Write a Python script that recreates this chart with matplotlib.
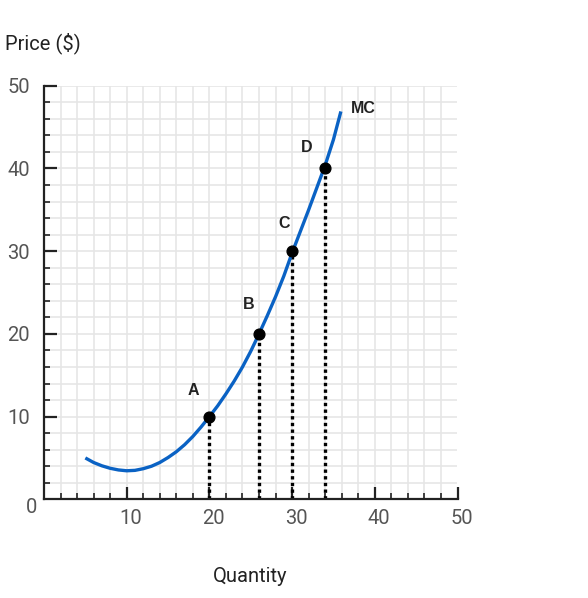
import matplotlib
matplotlib.use("Agg")
import matplotlib.pyplot as plt
import matplotlib.transforms as mtransforms
from matplotlib.ticker import MultipleLocator

# MC curve, one reading per unit of quantity
mc_q = [5, 6, 7, 8, 9, 10, 11, 12, 13, 14, 15, 16, 17, 18, 19, 20,
        21, 22, 23, 24, 25, 26, 27, 28, 29, 30, 31, 32, 33, 34, 35, 35.9]
mc_p = [5.0, 4.45, 4.05, 3.75, 3.55, 3.45, 3.5, 3.7, 4.0, 4.45, 5.05, 5.75, 6.6, 7.6, 8.75, 10.0,
        11.3, 12.75, 14.3, 16.0, 17.9, 20.0, 22.2, 24.5, 27.0, 29.8, 32.4, 35.0, 37.7, 40.4, 43.5, 46.9]

# labelled points
pt_names = ["A", "B", "C", "D"]
pt_q = [20, 26, 30, 34]
pt_p = [10, 20, 30, 40]
lab_q = [18.0, 24.8, 29.0, 31.8]
lab_p = [13.2, 23.5, 33.3, 42.5]

ticks = [10, 20, 30, 40, 50]

plt.rcParams["font.family"] = ["Roboto", "DejaVu Sans"]
TICK_GREY = "#555555"
INK = "#222222"

fig = plt.figure(figsize=(5.88, 5.98), dpi=100)
ax = fig.add_axes([44 / 588, 1 - 499.3 / 598, 413.5 / 588, 413.5 / 598])

ax.set_xlim(0, 50)
ax.set_ylim(0, 50)
ax.xaxis.set_minor_locator(MultipleLocator(2))
ax.yaxis.set_minor_locator(MultipleLocator(2))
ax.grid(which="both", color="#e6e6e6", linewidth=1.2, zorder=0)
ax.set_axisbelow(True)

for side in ["top", "right"]:
    ax.spines[side].set_visible(False)
for side in ["left", "bottom"]:
    ax.spines[side].set_color(INK)
    ax.spines[side].set_linewidth(1.6)

ax.set_xticks(ticks)
ax.set_yticks(ticks)
ax.set_xticklabels([str(t) for t in ticks])
ax.set_yticklabels([str(t) for t in ticks])
ax.tick_params(which="major", direction="in", length=9, width=1.6, color=INK,
               labelsize=14.5, labelcolor=TICK_GREY)
ax.tick_params(axis="y", which="major", pad=10)
ax.tick_params(axis="x", which="major", pad=7)
ax.tick_params(which="minor", direction="in", length=4.5, width=1.2, color=INK)
shift = mtransforms.ScaledTranslation(4 / 100, 0, fig.dpi_scale_trans)
for lab in ax.get_xticklabels():
    lab.set_transform(lab.get_transform() + shift)
ax.text(-1.45, -0.95, "0", ha="center", va="center", fontsize=14.5, color=TICK_GREY,
        clip_on=False)

# dotted drops to the quantity axis
for q, p in zip(pt_q, pt_p):
    ax.plot([q, q], [0, p], color="black", linestyle=(0, (1, 1)), linewidth=2.4, zorder=2)

ax.plot(mc_q, mc_p, color="#0a62c4", linewidth=2.4, solid_capstyle="butt",
        solid_joinstyle="round", zorder=3)
ax.scatter(pt_q, pt_p, s=60, color="black", zorder=4)

for name, q, p in zip(pt_names, lab_q, lab_p):
    ax.text(q, p, name, ha="center", va="center", fontsize=11.5, fontweight="bold",
            color=INK, family=["Liberation Sans", "DejaVu Sans"])
ax.text(38.6, 47.2, "MC", ha="center", va="center", fontsize=11.5, fontweight="bold",
        color=INK, family=["Liberation Sans", "DejaVu Sans"])

fig.text(5 / 588, 1 - 43 / 598, "Price ($)", ha="left", va="center", fontsize=14.5,
         color=INK)
fig.text(250 / 588, 1 - 576 / 598, "Quantity", ha="center", va="center", fontsize=14.5,
         color=INK)

fig.savefig("out.png", dpi=100)
